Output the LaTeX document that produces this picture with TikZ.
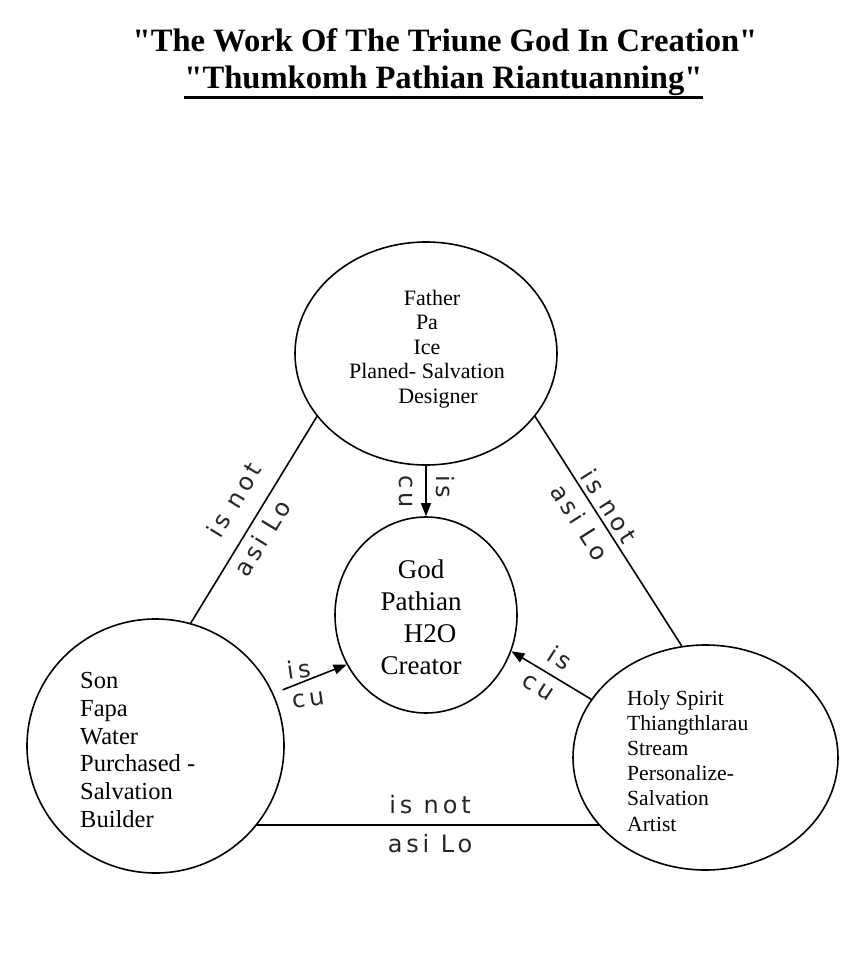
\documentclass[tikz,border=0pt]{standalone}
\usepackage{fontspec}
\setmainfont{Liberation Serif}
\newfontfamily\titlefont{Liberation Serif}
\newfontfamily\handfont[LetterSpace=16]{DejaVu Sans}
\usetikzlibrary{shapes.geometric,arrows.meta}
\begin{document}
\begin{tikzpicture}[x=1pt,y=-1pt,
  blob/.style={draw, line width=1.6pt, ellipse, inner sep=0pt},
  link/.style={line width=1.6pt},
  arr/.style={line width=1.6pt, -{Triangle[length=13pt,width=10pt]}},
  hand/.style={font=\handfont\fontsize{24}{24}\selectfont, text=black!85, inner sep=0pt},
  titletxt/.style={font=\titlefont\bfseries\fontsize{32.6}{38}\selectfont, inner sep=0pt, anchor=base},
  bodytxt/.style={inner sep=0pt}]
\useasboundingbox (0,0) rectangle (858,960);

% titles
\node[titletxt] (title1) at (445,52) {"The Work Of The Triune God In Creation"};
\node[titletxt] (title2) at (443.5,89) {"Thumkomh Pathian Riantuanning"};
\draw[line width=2.5pt] ([yshift=-1pt]title2.south west) -- ([yshift=-1pt]title2.south east);

% ellipses
\node[blob, minimum width=262pt, minimum height=223pt] (father) at (426,353.5) {};
\node[blob, minimum width=182pt, minimum height=196pt] (god) at (426,615) {};
\node[blob, minimum width=257pt, minimum height=254pt] (son) at (155.5,746) {};
\node[blob, minimum width=265pt, minimum height=225pt] (spirit) at (705.5,757.5) {};

% texts
\node[bodytxt, anchor=north, align=center, font=\fontsize{22}{24.5}\selectfont] (fathertxt) at (427,290)
  {\hspace{10pt}Father\\Pa\\Ice\\Planed- Salvation\\\hspace{22pt}Designer};
\node[bodytxt, anchor=north, align=center, font=\fontsize{27}{31.7}\selectfont] (godtxt) at (421,560)
  {God\\Pathian\\\hspace{18pt}H2O\\Creator};
\node[bodytxt, anchor=north west, align=left, font=\fontsize{24.5}{27.8}\selectfont] (sontxt) at (80,672)
  {Son\\Fapa\\Water\\Purchased -\\Salvation\\Builder};
\node[bodytxt, anchor=north west, align=left, font=\fontsize{21.6}{25.2}\selectfont] (spirittxt) at (627,690)
  {Holy Spirit\\Thiangthlarau\\Stream\\Personalize-\\Salvation\\Artist};

% connectors
\draw[link] (father.210) -- (son.74.5);
\draw[link] (father.-30.2) -- (spirit.102.6);
\draw[link] (son.-38.7) -- (son.-38.7 -| spirit.213.4);
\draw[arr] (father.south) -- (god.north);
\draw[arr, shorten <=10pt] (son.24) -- (god.212.3);
\draw[arr] (spirit.153.5) -- (god.-23);

% handwritten labels
\node[hand, rotate=58.6] (l1a) at (234,500) {is not};
\node[hand, rotate=58.6] (l1b) at (262,538) {asi Lo};
\node[hand, rotate=-57.6] (l2a) at (609,506) {is not};
\node[hand, rotate=-57.6] (l2b) at (580,522) {asi Lo};
\node[hand] (l3a) at (430,805) {is not};
\node[hand] (l3b) at (430,844) {asi Lo};
\node[hand, rotate=-90] (l4a) at (445,487) {is};
\node[hand, rotate=-90] (l4b) at (406,492) {cu};
\node[hand, rotate=8] (l5a) at (299,669) {is};
\node[hand, rotate=8] (l5b) at (309,700) {cu};
\node[hand, rotate=-33] (l6a) at (560,658) {is};
\node[hand, rotate=-33] (l6b) at (538,688) {cu};
\end{tikzpicture}
\end{document}
